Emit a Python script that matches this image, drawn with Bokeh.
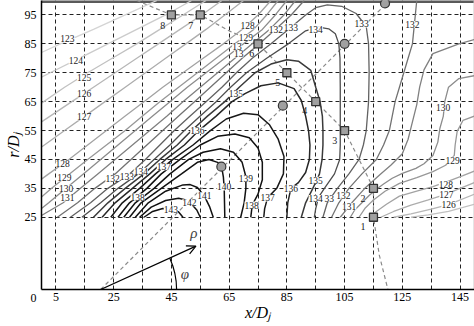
import math
from bokeh.plotting import figure
from bokeh.models import ColumnDataSource, LabelSet, Label, Arrow, OpenHead, FixedTicker
from bokeh.embed import file_html
from bokeh.resources import INLINE
from bokeh.core.properties import value

# ---------------- data (x/Dj, r/Dj) ----------------
c123 = [(0,82),(6.5,85),(18,90),(29,95),(40,100)]
c124 = [(0,73.5),(3,75),(13,80),(23,85),(33,90),(43,95),(52,100)]
c125a = [(0,64.5),(8,70),(16,75),(24.5,80),(33,85),(41,90),(49,95),(57,100)]
c125b = [(128,25),(134,25.8),(141,27),(150,29.5)]
c126a = [(0,58),(3,60),(10.5,65),(18,70),(25.5,75),(33,80),(40.5,85),(48,90),(55.5,95),(62.5,100)]
c126b = [(122,25),(128,26.2),(135,27.8),(141,29.4),(150,33)]
c127a = [(0,49.3),(1,50),(8,55),(15,60),(22,65),(29,70),(36,75),(43,80),(50,85),(57,90),(63.5,95),(70,100)]
c127b = [(117.5,25),(122,27),(128,29.2),(134,31),(140,32.9),(145,35),(150,37)]
c128a = [(0,38.2),(2.5,40),(9.5,45),(16,50),(22.5,55),(29,60),(35.5,65),(42,70),(49,75),(56,80),(63,85),(69.5,90),(75,95),(79.5,100)]
c128b = [(113.5,25),(116,27),(119.5,29.5),(124,32.3),(130,34),(135.6,35.6),(141,37.5),(146,39.4),(150,41)]
c129a = [(0,32),(3.5,35),(9.7,40),(16,45),(22.5,50),(29,55),(35,60),(41,65),(47.5,70),(54,75),(60.5,80),(67,85),(73.5,90),(78,95),(82,100)]
c129b = [(110,25),(112,28),(115,31),(119,34),(124,36.7),(130,38.7),(135.6,40.8),(140,43),(143,46.4),(143.3,50),(144,54.7),(146,58.5),(150,60)]
c130a = [(0,28),(2.5,30),(8.5,35),(14.5,40),(20.5,45),(26.5,50),(32.5,55),(38.5,60),(44.5,65),(50.5,70),(57,75),(63.5,80),(70,85),(76.5,90),(81,95),(85,100)]
c130b = [(107,25),(108.5,27.5),(111,30),(113.5,32.5),(116.5,35),(118.5,36.5),(121.5,38.5),(125,40.2),(129.7,41.9),(132.5,43.5),(135.6,46.4),(137.3,51),(138,55.7),(139.2,60),(139.7,65),(141,70),(144.6,73),(150,74)]
c131a = [(0,25.6),(7.5,30),(13.5,35),(19.5,40),(25.5,45),(31.5,50),(37.5,55),(43.5,60),(49,65),(55,70),(61,75),(67,80),(73,85),(79,90),(84,95),(88,100)]
c131b = [(103.5,25),(107.5,30),(112,35),(117.5,40),(121,43),(125,47),(127,52),(128.5,58),(130,64),(131,70),(132.5,76),(135.6,81.6),(144.6,85),(150,86.5)]
c132a = [(5.5,25),(12.5,30),(18.5,35),(25.5,40),(31,45),(36.5,50),(42,55),(47.5,60),(53,65),(58.5,70),(64,75),(69.5,80),(75.5,85),(81,90),(86.5,95),(91,100)]
c132b = [(100.5,25),(103,30),(106.5,35),(111,40),(116,45),(118.5,50),(120.5,55),(121.5,60),(122.5,65),(124,70),(125.5,75),(127,80),(128.5,85),(129,90),(129.5,95),(130,100)]
c133 = [(10,25),(17,30),(23,35),(30.5,40),(36,45),(41,50),(46,55),(51.5,60),(57,65),(62.5,70),(67.5,75),(73,80),(79.5,85),(85.5,90),(91.5,95),(95,97.5),(99,98.5),(104,98),(109,95.5),(112.5,91),(113.3,85),(113.5,75),(113.3,65),(112.5,55),(111.5,50),(110,45),(106.5,40),(102.5,35),(99,30),(97.5,25)]
c134 = [(14,25),(20.5,30),(26.5,35),(33.5,40),(39,45),(44.5,50),(49.5,55),(55,60),(60.5,65),(65.5,70),(71,75),(78,80),(85.5,85),(91.5,89.5),(96,90.8),(99.5,90.2),(101.8,88.5),(103,85),(103.4,80),(103.5,70),(103.5,60),(103.5,50),(103.3,45),(101.5,40),(98,35),(96,32),(95,28),(94.5,25)]
c135 = [(18,25),(23,30),(29,35),(35.5,40),(41,45),(47,50),(52,55),(57.5,60),(63.5,65),(68.5,70),(74,75),(79.5,78),(85,79.5),(89,79),(93.3,75.8),(95,70),(96.5,65),(97.3,60),(97.5,55),(97.5,50),(97.2,45),(96.3,40),(95.3,37.8),(94,35),(91.5,30),(90,25)]
c136 = [(21,25),(25.5,30),(31.5,35),(37.5,40),(43,45),(49.5,50),(54.5,55),(60.5,60),(66,65),(70.5,67.8),(76,70.5),(82,71.5),(87.5,69.5),(90,65.4),(91.5,60),(92.5,55),(93,50),(92.8,45),(91.5,40.5),(89,37),(86.4,35),(85.3,30),(85,25)]
c137 = [(24,25),(28,30),(34,35),(39.5,40),(45.5,45),(52.5,50),(58.5,55),(64,59),(70,61),(75,60.5),(79,57),(82,52),(84,46),(83.8,40),(81.5,35),(78.3,31.7),(77.3,28),(77,25)]
c138 = [(26.5,25),(30.5,30),(36.5,35),(41.5,40),(48,45),(55,50),(61,53),(67,53.8),(72,52.5),(75,49),(76.5,44),(76.5,38),(75,33),(73,29.2),(72.5,25)]
c139 = [(28.5,25),(32.5,30),(39,35),(44.5,40),(51,45),(56,47.5),(62,48.7),(66.5,47.5),(69.5,44),(70.8,39),(70.8,35),(70.2,30),(69,25)]
c140 = [(30.5,25),(34.5,30),(41.5,35),(48.5,40),(54,44),(58,45),(61,44),(62.4,42.5),(63,39),(63.3,35),(63.4,30),(63.5,25)]
c141 = [(32.5,25),(37,30),(43,34),(49,36.2),(51.5,36.3),(54,35.3),(56.4,32.4),(58.3,28.5),(59.5,25)]
c142 = [(34,25),(38,28.5),(43,30.8),(47.5,31.6),(50,31),(52,29.5),(53.8,27.5),(55,25)]
c143 = [(35.5,25),(38.5,27),(42,28),(45,27.9),(47.5,26.8),(49,25)]

contours = [
    (123, c123), (124, c124), (125, c125a), (125, c125b), (126, c126a), (126, c126b),
    (127, c127a), (127, c127b), (128, c128a), (128, c128b), (129, c129a), (129, c129b),
    (130, c130a), (130, c130b), (131, c131a), (131, c131b), (132, c132a), (132, c132b),
    (133, c133), (134, c134), (135, c135), (136, c136), (137, c137), (138, c138),
    (139, c139), (140, c140), (141, c141), (142, c142), (143, c143),
]

# inline contour labels: (text, x, r)
contour_labels = [
    ("123", 9, 86.7), ("124", 11.9, 79.2), ("125", 14.8, 73.5), ("126", 14.8, 67.7),
    ("127", 14.8, 59.8), ("128", 7.3, 43.6), ("129", 7.9, 38.7), ("130", 8.5, 35),
    ("131", 9, 31.7), ("132", 24.6, 38.4), ("133", 29.6, 39.1), ("134", 34.4, 40.9),
    ("138", 33.3, 32), ("137", 42.4, 42.5), ("136", 54, 55), ("135", 67.3, 67.8),
    ("128", 71.4, 91.3), ("129", 70.8, 87.3), ("13", 67.7, 84), ("13", 68.3, 81.5),
    ("132", 81.2, 89.9), ("133", 86.4, 90.8), ("134", 95, 89.9), ("133", 110.9, 91.9),
    ("132", 128.5, 91.7), ("130", 139.1, 62.9), ("129", 142.4, 44.7), ("128", 140.1, 36.3),
    ("127", 140.3, 32.9), ("126", 141, 29.4), ("143", 44.8, 27.8), ("142", 51.2, 30),
    ("141", 56.4, 32.4), ("140", 63.3, 35.5), ("139", 70.8, 38.4), ("138", 72.8, 29.2),
    ("137", 78.3, 31.7), ("136", 86.4, 34.9), ("135", 95, 37.8), ("134", 95, 31.5),
    ("33", 99.7, 31.5), ("132", 104.6, 32.4), ("131", 106.6, 28.6),
]

# measurement points
sq_x = [115, 115, 105, 95, 85, 75, 55, 45]
sq_r = [25, 35, 55, 65, 75, 85, 95, 95]
sq_names = ["1", "2", "3", "4", "5", "6", "7", "8"]
sq_lab_x = [111.4, 111.4, 101.6, 91.2, 81.8, 72.8, 51.7, 42]
sq_lab_r = [21.7, 31.6, 51.6, 62, 71.7, 81.5, 91.3, 91.3]
circ_x = [62.3, 83.6, 105, 119]
circ_r = [42.5, 63.6, 85, 99]

# dashed guide curves
ray_x = [20.5, 121.5]
ray_r = [0, 101]
path_x = [33, 45, 55, 65, 75, 85, 95, 105, 115, 115, 117, 120]
path_r = [100, 95, 95, 89.5, 85, 75, 65, 55, 35, 25, 12, 0]

# polar coordinate sketch
origin = (20.5, 0)
arrow_tip = (53.5, 15)
arc_radius = 26.3
arc_end_deg = 24.4

x_ticks = [5, 25, 45, 65, 85, 105, 125, 145]
y_ticks = [0, 25, 35, 45, 55, 65, 75, 85, 95]
x_grid = list(range(5, 150, 10))
y_grid = list(range(25, 100, 10))

# ---------------- styles ----------------
grey = {123: "#d4d4d4", 124: "#cbcbcb", 125: "#c1c1c1", 126: "#b7b7b7", 127: "#adadad",
        128: "#a3a3a3", 129: "#989898", 130: "#8c8c8c", 131: "#808080", 132: "#727272",
        133: "#626262", 134: "#4e4e4e", 135: "#3a3a3a", 136: "#262626", 137: "#181818"}
FONT = "Liberation Serif"

p = figure(width=474, height=326, x_range=(0, 150), y_range=(0, 100),
           output_backend="svg", toolbar_location=None,
           min_border_left=41, min_border_right=0, min_border_top=0, min_border_bottom=37)
p.outline_line_color = None
p.background_fill_color = "white"
p.border_fill_color = "white"

for ax in (p.xaxis, p.yaxis):
    ax.major_tick_line_color = None
    ax.minor_tick_line_color = None
    ax.major_tick_out = 0
    ax.major_tick_in = 0
    ax.axis_line_color = "black"
    ax.axis_line_width = 1.5
    ax.major_label_text_font = FONT
    ax.major_label_text_font_size = "12px"
    ax.major_label_text_color = "black"
    ax.axis_label_text_font = FONT
    ax.axis_label_text_font_style = "italic"
    ax.axis_label_text_font_size = "16px"
    ax.axis_label_text_color = "black"
    ax.axis_label_standoff = 0
p.xaxis.ticker = FixedTicker(ticks=x_ticks)
p.yaxis.ticker = FixedTicker(ticks=y_ticks)
p.yaxis.major_label_overrides = {0: " \n0"}
p.xaxis.major_label_standoff = 3
p.yaxis.major_label_standoff = 5
p.xaxis.axis_label = "x/D\u2c7c"
p.yaxis.axis_label = "r/D\u2c7c"

p.xgrid.ticker = FixedTicker(ticks=x_grid)
p.ygrid.ticker = FixedTicker(ticks=y_grid)
for g in (p.xgrid, p.ygrid):
    g.grid_line_color = "#222222"
    g.grid_line_dash = "4 3"
    g.grid_line_width = 1

# frame edges
p.line([0, 150], [100, 100], line_width=5, color="#5a5a5a")
p.line([150, 150], [0, 100], line_width=2, color="#cccccc")

# dashed guides
p.line(ray_x, ray_r, line_dash="4 3", color="#8a8a8a", line_width=1.2)
p.line(path_x, path_r, line_dash="4 3", color="#8a8a8a", line_width=1.2)

# contours
xs, ys, cols, wids = [], [], [], []
for lev, pts in contours:
    xs.append([pt[0] for pt in pts])
    ys.append([pt[1] for pt in pts])
    cols.append(grey.get(lev, "#111111"))
    wids.append(1.5 if lev >= 135 else 1.3)
p.multi_line(xs="xs", ys="ys", line_color="c", line_width="w",
             source=ColumnDataSource(dict(xs=xs, ys=ys, c=cols, w=wids)))

lab_src = ColumnDataSource(dict(t=[c[0] for c in contour_labels],
                                x=[c[1] for c in contour_labels],
                                y=[c[2] for c in contour_labels]))
p.add_layout(LabelSet(x="x", y="y", text="t", source=lab_src, text_align="center",
                      text_baseline="middle", text_font=value(FONT), text_font_size="9.5px",
                      text_color="#1a1a1a", background_fill_color="white"))

# markers
p.scatter(circ_x, circ_r, marker="circle", size=9, fill_color="#a0a0a0",
          line_color="#333333", line_width=1.2)
p.scatter(sq_x, sq_r, marker="square", size=8, fill_color="#a0a0a0",
          line_color="#333333", line_width=1.3)
p.add_layout(LabelSet(x="x", y="y", text="t", text_align="center", text_baseline="middle",
                      source=ColumnDataSource(dict(x=sq_lab_x, y=sq_lab_r, t=sq_names)),
                      text_font=value(FONT), text_font_size="10px", text_color="#1a1a1a"))

# polar sketch
p.add_layout(Arrow(end=OpenHead(size=9, line_width=1.2, line_color="black"),
                   x_start=origin[0], y_start=origin[1], x_end=arrow_tip[0], y_end=arrow_tip[1],
                   line_width=1.2, line_color="black"))
p.arc(x=[origin[0]], y=[origin[1]], radius=arc_radius, start_angle=0,
      end_angle=math.radians(arc_end_deg), color="black", line_width=1.2)
p.add_layout(Label(x=52.8, y=19.5, text="ρ", text_font=FONT, text_font_style="italic",
                   text_font_size="15px", text_align="center", text_baseline="middle"))
p.add_layout(Label(x=49.7, y=5.5, text="φ", text_font=FONT, text_font_style="italic",
                   text_font_size="15px", text_align="center", text_baseline="middle"))

open("out.html", "w").write(file_html(p, INLINE))
